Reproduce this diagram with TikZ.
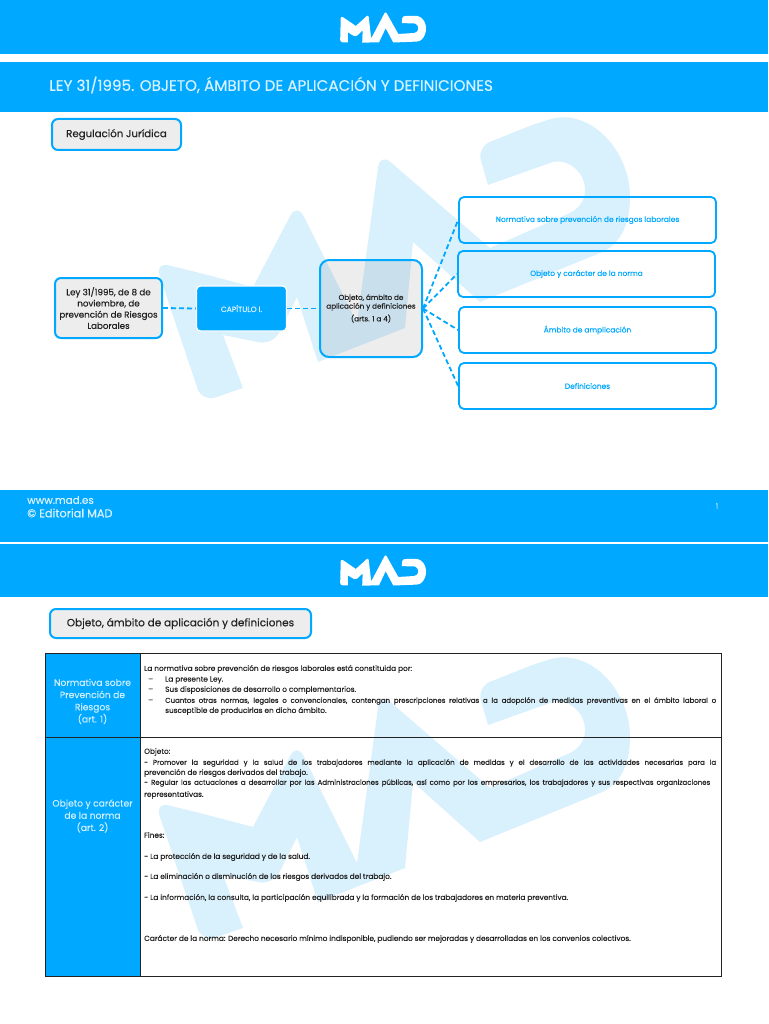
\documentclass[tikz,border=0pt]{standalone}
\usepackage{fontspec}
\setmainfont{Poppins}[RawFeature={embolden=0.35}]
\definecolor{madblue}{HTML}{00A8FF}
\definecolor{madpale}{HTML}{D9F0FD}
\definecolor{inkgrey}{HTML}{222222}
% outline of the letters, used for logo and watermark
\newcommand{\madshape}[1]{(204,274) -- (253,287) [rounded corners=#1] -- (297,203) [sharp corners] -- (357,323) [rounded corners=#1] -- (380,153) [sharp corners] -- (490,248) -- (570,213) .. controls (582,207) and (585,197) .. (585,190) .. controls (585,170) and (565,157) .. (550,163) -- (488,185) [rounded corners=#1] -- (477,147) -- (537,123) [sharp corners] .. controls (590,108) and (630,150) .. (630,197) .. controls (630,225) and (620,245) .. (600,253) -- (480,302) -- (413,242) -- (405,328) -- (318,362) -- (297,297) [rounded corners=#1] -- (273,345) [sharp corners] -- (223,335) -- (243,388) [rounded corners=#1] -- (202,402) -- (155,262) -- cycle}
\newcommand{\justline}[2]{\hbox to #1pt{#2}}
\begin{document}
\begin{tikzpicture}[x=1pt, y=-1pt,
      band/.style={fill=madblue},
      greybox/.style={rectangle, rounded corners=6pt, draw=madblue, line width=2pt,
                  fill=black, fill opacity=.07, text opacity=1, text=inkgrey,
                  align=center, inner sep=0pt},
      whitebox/.style={rectangle, rounded corners=5pt, draw=madblue, line width=1.8pt,
                  minimum width=257pt, minimum height=46pt, text=madblue,
                  font=\fontsize{7.45}{8}\selectfont, inner sep=0pt},
      chapbox/.style={rectangle, rounded corners=4pt, draw=white, line width=1.2pt,
                  fill=madblue, text=white!85!madblue, minimum width=90pt, minimum height=45pt,
                  font=\fontsize{7.6}{8}\selectfont, inner sep=0pt},
      link/.style={madblue, line width=1.8pt, dash pattern=on 5pt off 3pt},
      cellline/.style={anchor=west, inner sep=0pt, text=inkgrey,
                  font=\fontsize{7.35}{8}\selectfont},
      fullline/.style={cellline, font=\fontsize{7}{8}\selectfont},
      celllabel/.style={align=center, inner sep=0pt, text=white!80!madblue,
                  font=\fontsize{9.2}{12.2}\selectfont},
      footline/.style={anchor=west, inner sep=0pt, text=white!85!madblue},
    ]
    \useasboundingbox (0,0) rectangle (768,1024);

    % watermarks
    \fill[madpale] \madshape{14pt};
    \begin{scope}[yshift=-540pt]
      \fill[madpale] \madshape{14pt};
    \end{scope}

    % bands
    \fill[band] (0,0) rectangle (768,54);
    \fill[band] (0,62) rectangle (768,112);
    \fill[band] (0,490) rectangle (768,542);
    \fill[band] (0,544) rectangle (768,597);

    % logos
    \begin{scope}[shift={(382.5,29)}, rotate=-20, scale=.18, shift={(-398,-252)}]
      \fill[white] \madshape{2.5pt};
    \end{scope}
    \begin{scope}[shift={(382.5,572)}, rotate=-20, scale=.18, shift={(-398,-252)}]
      \fill[white] \madshape{2.5pt};
    \end{scope}

    \node[anchor=west, inner sep=0pt, text=white!85!madblue,
          font=\fontsize{15.2}{18}\selectfont] (title) at (49,85)
      {LEY 31/1995. OBJETO, ÁMBITO DE APLICACIÓN Y DEFINICIONES};

    \node[greybox, minimum width=129pt, minimum height=31pt,
          font=\fontsize{10.2}{11}\selectfont] (regbox) at (116.5,134.5)
      {Regulación Jurídica};

    \node[greybox, minimum width=107pt, minimum height=60pt,
          font=\fontsize{8.7}{11.2}\selectfont] (leybox) at (108.5,308)
      {Ley 31/1995, de 8 de\\noviembre, de\\prevención de Riesgos\\Laborales};

    \node[chapbox] (capbox) at (241.5,308.5) {CAPÍTULO I.};

    \node[greybox, rounded corners=9pt, minimum width=102pt, minimum height=97pt,
          font=\fontsize{7.2}{8.7}\selectfont] (objbox) at (371,308.5)
      {Objeto, ámbito de\\aplicación y definiciones\\[4pt](arts. 1 a 4)};

    \node[whitebox] (normbox) at (587.5,220) {Normativa sobre prevención de riesgos laborales};
    \node[whitebox] (caracbox) at (586.5,274) {Objeto y carácter de la norma};
    \node[whitebox] (ambbox) at (587.5,330) {Ámbito de amplicación};
    \node[whitebox] (defbox) at (587.5,386) {Definiciones};

    \draw[link] (leybox.east) -- (capbox.west);
    \draw[link] (capbox.east) -- (objbox.west);
    \draw[link] (objbox.east) -- (normbox.west);
    \draw[link] (objbox.east) -- (caracbox.west);
    \draw[link] (objbox.east) -- (ambbox.west);
    \draw[link] (objbox.east) -- (defbox.west);

    \node[footline, font=\fontsize{10.4}{12}\selectfont] (web) at (27,500) {www.mad.es};
    \node[footline, font=\fontsize{11.3}{12}\selectfont] (edit) at (27,513) {© Editorial MAD};
    \node[inner sep=0pt, text=white!85!madblue, font=\fontsize{7}{8}\selectfont] (pagenum) at (717,506) {1};

    \node[greybox, minimum width=261pt, minimum height=29pt,
          font=\fontsize{10.5}{11}\selectfont] (objtitle) at (180.5,623.5)
      {Objeto, ámbito de aplicación y definiciones};

    % table
    \fill[band] (45,653) rectangle (140,976);
    \draw[inkgrey, line width=1pt] (45,653) rectangle (721,976);
    \draw[inkgrey, line width=1pt] (45,737) -- (721,737);
    \draw[inkgrey, line width=1pt] (140,653) -- (140,976);

    \node[celllabel] (normlabel) at (92.5,701.5)
      {Normativa sobre\\Prevención de\\Riesgos\\(art. 1)};
    \node[celllabel] (carlabel) at (92.5,816)
      {Objeto y carácter\\de la norma\\(art. 2)};

    \node[cellline] (r1a) at (144,669) {La normativa sobre prevención de riesgos laborales está constituida por:};
    \node[cellline] (d1) at (148,680) {--};
    \node[cellline] (r1b) at (165,680) {La presente Ley.};
    \node[cellline] (d2) at (148,690) {--};
    \node[cellline] (r1c) at (165,690) {Sus disposiciones de desarrollo o complementarios.};
    \node[cellline] (d3) at (148,701) {--};
    \node[fullline] (r1d) at (165,701) {\justline{551}{Cuantos otras normas, legales o convencionales, contengan prescripciones relativas a la adopción de medidas preventivas en el ámbito laboral o}};
    \node[cellline] (r1e) at (165,711) {susceptible de producirlas en dicho ámbito.};

    \node[cellline] (r2a) at (144,752) {Objeto:};
    \node[fullline] (r2b) at (144,763) {\justline{572}{- Promover la seguridad y la salud de los trabajadores mediante la aplicación de medidas y el desarrollo de las actividades necesarias para la}};
    \node[cellline] (r2c) at (144,773) {prevención de riesgos derivados del trabajo.};
    \node[fullline] (r2d) at (144,783) {\justline{566}{- Regular las actuaciones a desarrollar por las Administraciones públicas, así como por los empresarios, los trabajadores y sus respectivas organizaciones}};
    \node[cellline] (r2e) at (144,795) {representativas.};
    \node[cellline] (r2f) at (144,835) {Fines:};
    \node[cellline] (r2g) at (144,857) {- La protección de la seguridad y de la salud.};
    \node[cellline] (r2h) at (144,877) {- La eliminación o disminución de los riesgos derivados del trabajo.};
    \node[cellline] (r2i) at (144,898) {- La información, la consulta, la participación equilibrada y la formación de los trabajadores en materia preventiva.};
    \node[cellline] (r2j) at (144,939) {Carácter de la norma: Derecho necesario mínimo indisponible, pudiendo ser mejoradas y desarrolladas en los convenios colectivos.};

\end{tikzpicture}
\end{document}
